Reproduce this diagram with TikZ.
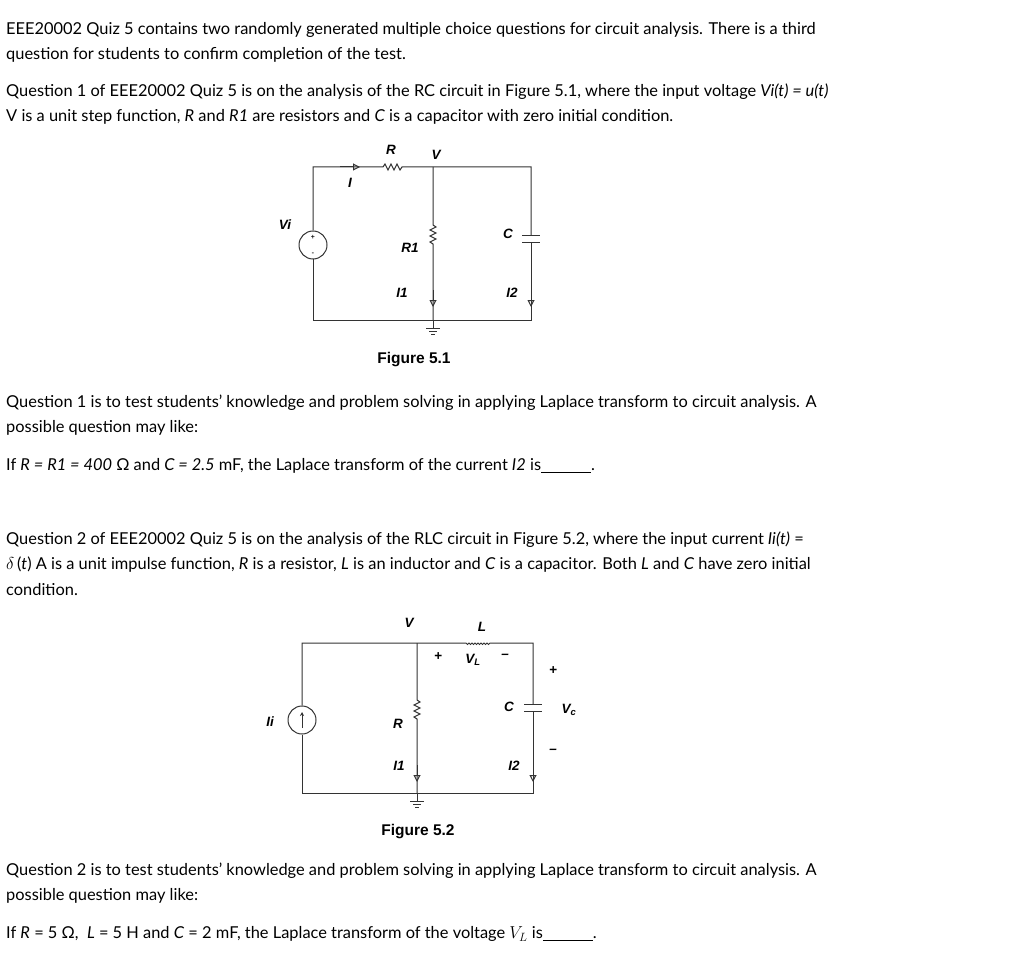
\documentclass[tikz,border=0pt]{standalone}
\usepackage{fontspec}
\setmainfont{Lato}
\newfontfamily\cf{Liberation Sans}
\usetikzlibrary{arrows.meta}
\tikzset{
 txt/.style={anchor=west,inner sep=0pt,font=\fontsize{16.4}{18}\selectfont},
 lab/.style={inner sep=0pt,font=\cf\bfseries\itshape\fontsize{13.5}{14}\selectfont},
 fig/.style={inner sep=0pt,font=\cf\bfseries\fontsize{15.5}{17}\selectfont},
 wire/.style={line width=1pt,black!80},
 carr/.style={wire,-{Triangle[open,length=7pt,width=7pt]}},
}
\newcommand{\blank}{\rule[-1.5pt]{50pt}{0.5pt}}
\begin{document}
\begin{tikzpicture}[x=1pt,y=-1pt]
\useasboundingbox (0,0) rectangle (1024,957);
% text
\node[txt] (t1) at (6,30) {EEE20002 Quiz 5 contains two randomly generated multiple choice questions for circuit analysis. There is a third};
\node[txt] (t2) at (6,55) {question for students to confirm completion of the test.};
\node[txt] (t3) at (6,92) {Question 1 of EEE20002 Quiz 5 is on the analysis of the RC circuit in Figure 5.1, where the input voltage \textit{Vi(t) = u(t)}};
\node[txt] (t4) at (6,117) {V is a unit step function, \textit{R} and \textit{R1} are resistors and \textit{C} is a capacitor with zero initial condition.};
\node[txt] (t5) at (6,403) {Question 1 is to test students’ knowledge and problem solving in applying Laplace transform to circuit analysis. A};
\node[txt] (t6) at (6,428) {possible question may like:};
\node[txt] (t7) at (6,466) {If \textit{R = R1 = 400} Ω and \textit{C = 2.5} mF, the Laplace transform of the current \textit{I2} is\blank.};
\node[txt] (t8) at (6,540) {Question 2 of EEE20002 Quiz 5 is on the analysis of the RLC circuit in Figure 5.2, where the input current \textit{Ii(t)} =};
\node[txt] (t9) at (6,565) {$\delta$\,(\textit{t}) A is a unit impulse function, \textit{R} is a resistor, \textit{L} is an inductor and \textit{C} is a capacitor. Both \textit{L} and \textit{C} have zero initial};
\node[txt] (t10) at (6,590) {condition.};
\node[txt] (t11) at (6,871) {Question 2 is to test students’ knowledge and problem solving  in applying Laplace transform to circuit analysis. A};
\node[txt] (t12) at (6,896) {possible question may like:};
\node[txt] (t13) at (6,934) {If \textit{R} = 5 Ω, \ \textit{L} = 5 H and \textit{C} = 2 mF, the Laplace transform of the voltage $V_L$ is\blank.};

% ===== Figure 5.1 =====
\coordinate (a1) at (313,167); \coordinate (a2) at (433,167); \coordinate (a3) at (531,167);
\coordinate (b1) at (313,320); \coordinate (b2) at (433,320); \coordinate (b3) at (531,320);
\node[draw,wire,circle,minimum size=28pt,inner sep=0pt] (vs) at (313,245) {};
\node[font=\fontsize{7}{7}\selectfont\bfseries,inner sep=0pt] (vp) at (313,237) {+};
\node[font=\fontsize{7}{7}\selectfont\bfseries,inner sep=0pt] (vm) at (313,254) {-};
\draw[wire] (vs.north) -- (a1) -- (383,167) -- ++(2,-3) -- ++(3,6) -- ++(3,-6) -- ++(3,6) -- ++(3,-6) -- ++(3,6) -- ++(2,-3) -- (a3) -- (531,236);
\draw[wire] (vs.south) -- (b1) -- (b3) -- (531,243);
\draw[wire] (522,236) -- (540,236) (522,243) -- (540,243);
\draw[carr] (340,167) -- (360,167);
\draw[wire] (a2) -- (433,225) -- ++(3,2) -- ++(-6,3) -- ++(6,3) -- ++(-6,3) -- ++(6,3) -- ++(-6,3) -- ++(3,2) -- (b2);
\draw[carr] (433,290) -- (433,307);
\draw[carr] (531,290) -- (531,307);
\draw[wire] (b2) -- (433,328) (426,328) -- (440,328) (429,331) -- (437,331) (431,334) -- (435,334);
\node[lab] (lR) at (391,150) {R};
\node[lab] (lV) at (436,155) {V};
\node[lab] (lI) at (350,183) {I};
\node[lab] (lVi) at (285,225) {Vi};
\node[lab] (lR1) at (410,248) {R1};
\node[lab] (lC) at (508,234) {C};
\node[lab] (lI1) at (402,293) {I1};
\node[lab] (lI2) at (512,293) {I2};
\node[fig] (f1) at (414,360) {Figure 5.1};

% ===== Figure 5.2 =====
\coordinate (c1) at (302,643); \coordinate (c2) at (417,643); \coordinate (c3) at (533,643);
\coordinate (d1) at (302,793); \coordinate (d2) at (417,793); \coordinate (d3) at (533,793);
\node[draw,wire,circle,minimum size=28pt,inner sep=0pt] (is) at (302,720) {};
\draw[wire,-{Stealth[length=4pt,width=4pt]}] (302,728) -- (302,712);
\draw[wire] (is.north) -- (c1) -- (c2) -- (466,643)
  arc[start angle=180,end angle=0,radius=1.5] arc[start angle=180,end angle=0,radius=1.5]
  arc[start angle=180,end angle=0,radius=1.5] arc[start angle=180,end angle=0,radius=1.5]
  arc[start angle=180,end angle=0,radius=1.5] arc[start angle=180,end angle=0,radius=1.5]
  arc[start angle=180,end angle=0,radius=1.5] arc[start angle=180,end angle=0,radius=1.5] -- (c3) -- (533,704);
\draw[wire] (is.south) -- (d1) -- (d3) -- (533,711);
\draw[wire] (524,704) -- (542,704) (524,711) -- (542,711);
\draw[wire] (c2) -- (417,700) -- ++(3,2) -- ++(-6,3) -- ++(6,3) -- ++(-6,3) -- ++(6,3) -- ++(-6,3) -- ++(3,2) -- (d2);
\draw[carr] (417,765) -- (417,782);
\draw[carr] (533,765) -- (533,782);
\draw[wire] (d2) -- (417,801) (410,801) -- (424,801) (413,804) -- (421,804) (415,807) -- (419,807);
\node[lab] (mV) at (409,623) {V};
\node[lab] (mL) at (482,627) {L};
\node[lab] (mp) at (438,657) {+};
\node[lab] (mVL) at (473,660) {V\textsubscript{L}};
\node[lab] (mm) at (505,656) {–};
\node[lab] (mp2) at (553,671) {+};
\node[lab] (mC) at (509,707) {C};
\node[lab] (mVc) at (569,710) {V\textsubscript{c}};
\node[lab] (mm2) at (553,751) {–};
\node[lab] (mIi) at (270,722) {Ii};
\node[lab] (mR) at (398,724) {R};
\node[lab] (mI1) at (399,766) {I1};
\node[lab] (mI2) at (514,766) {I2};
\node[fig] (f2) at (418,832) {Figure 5.2};
\end{tikzpicture}
\end{document}
